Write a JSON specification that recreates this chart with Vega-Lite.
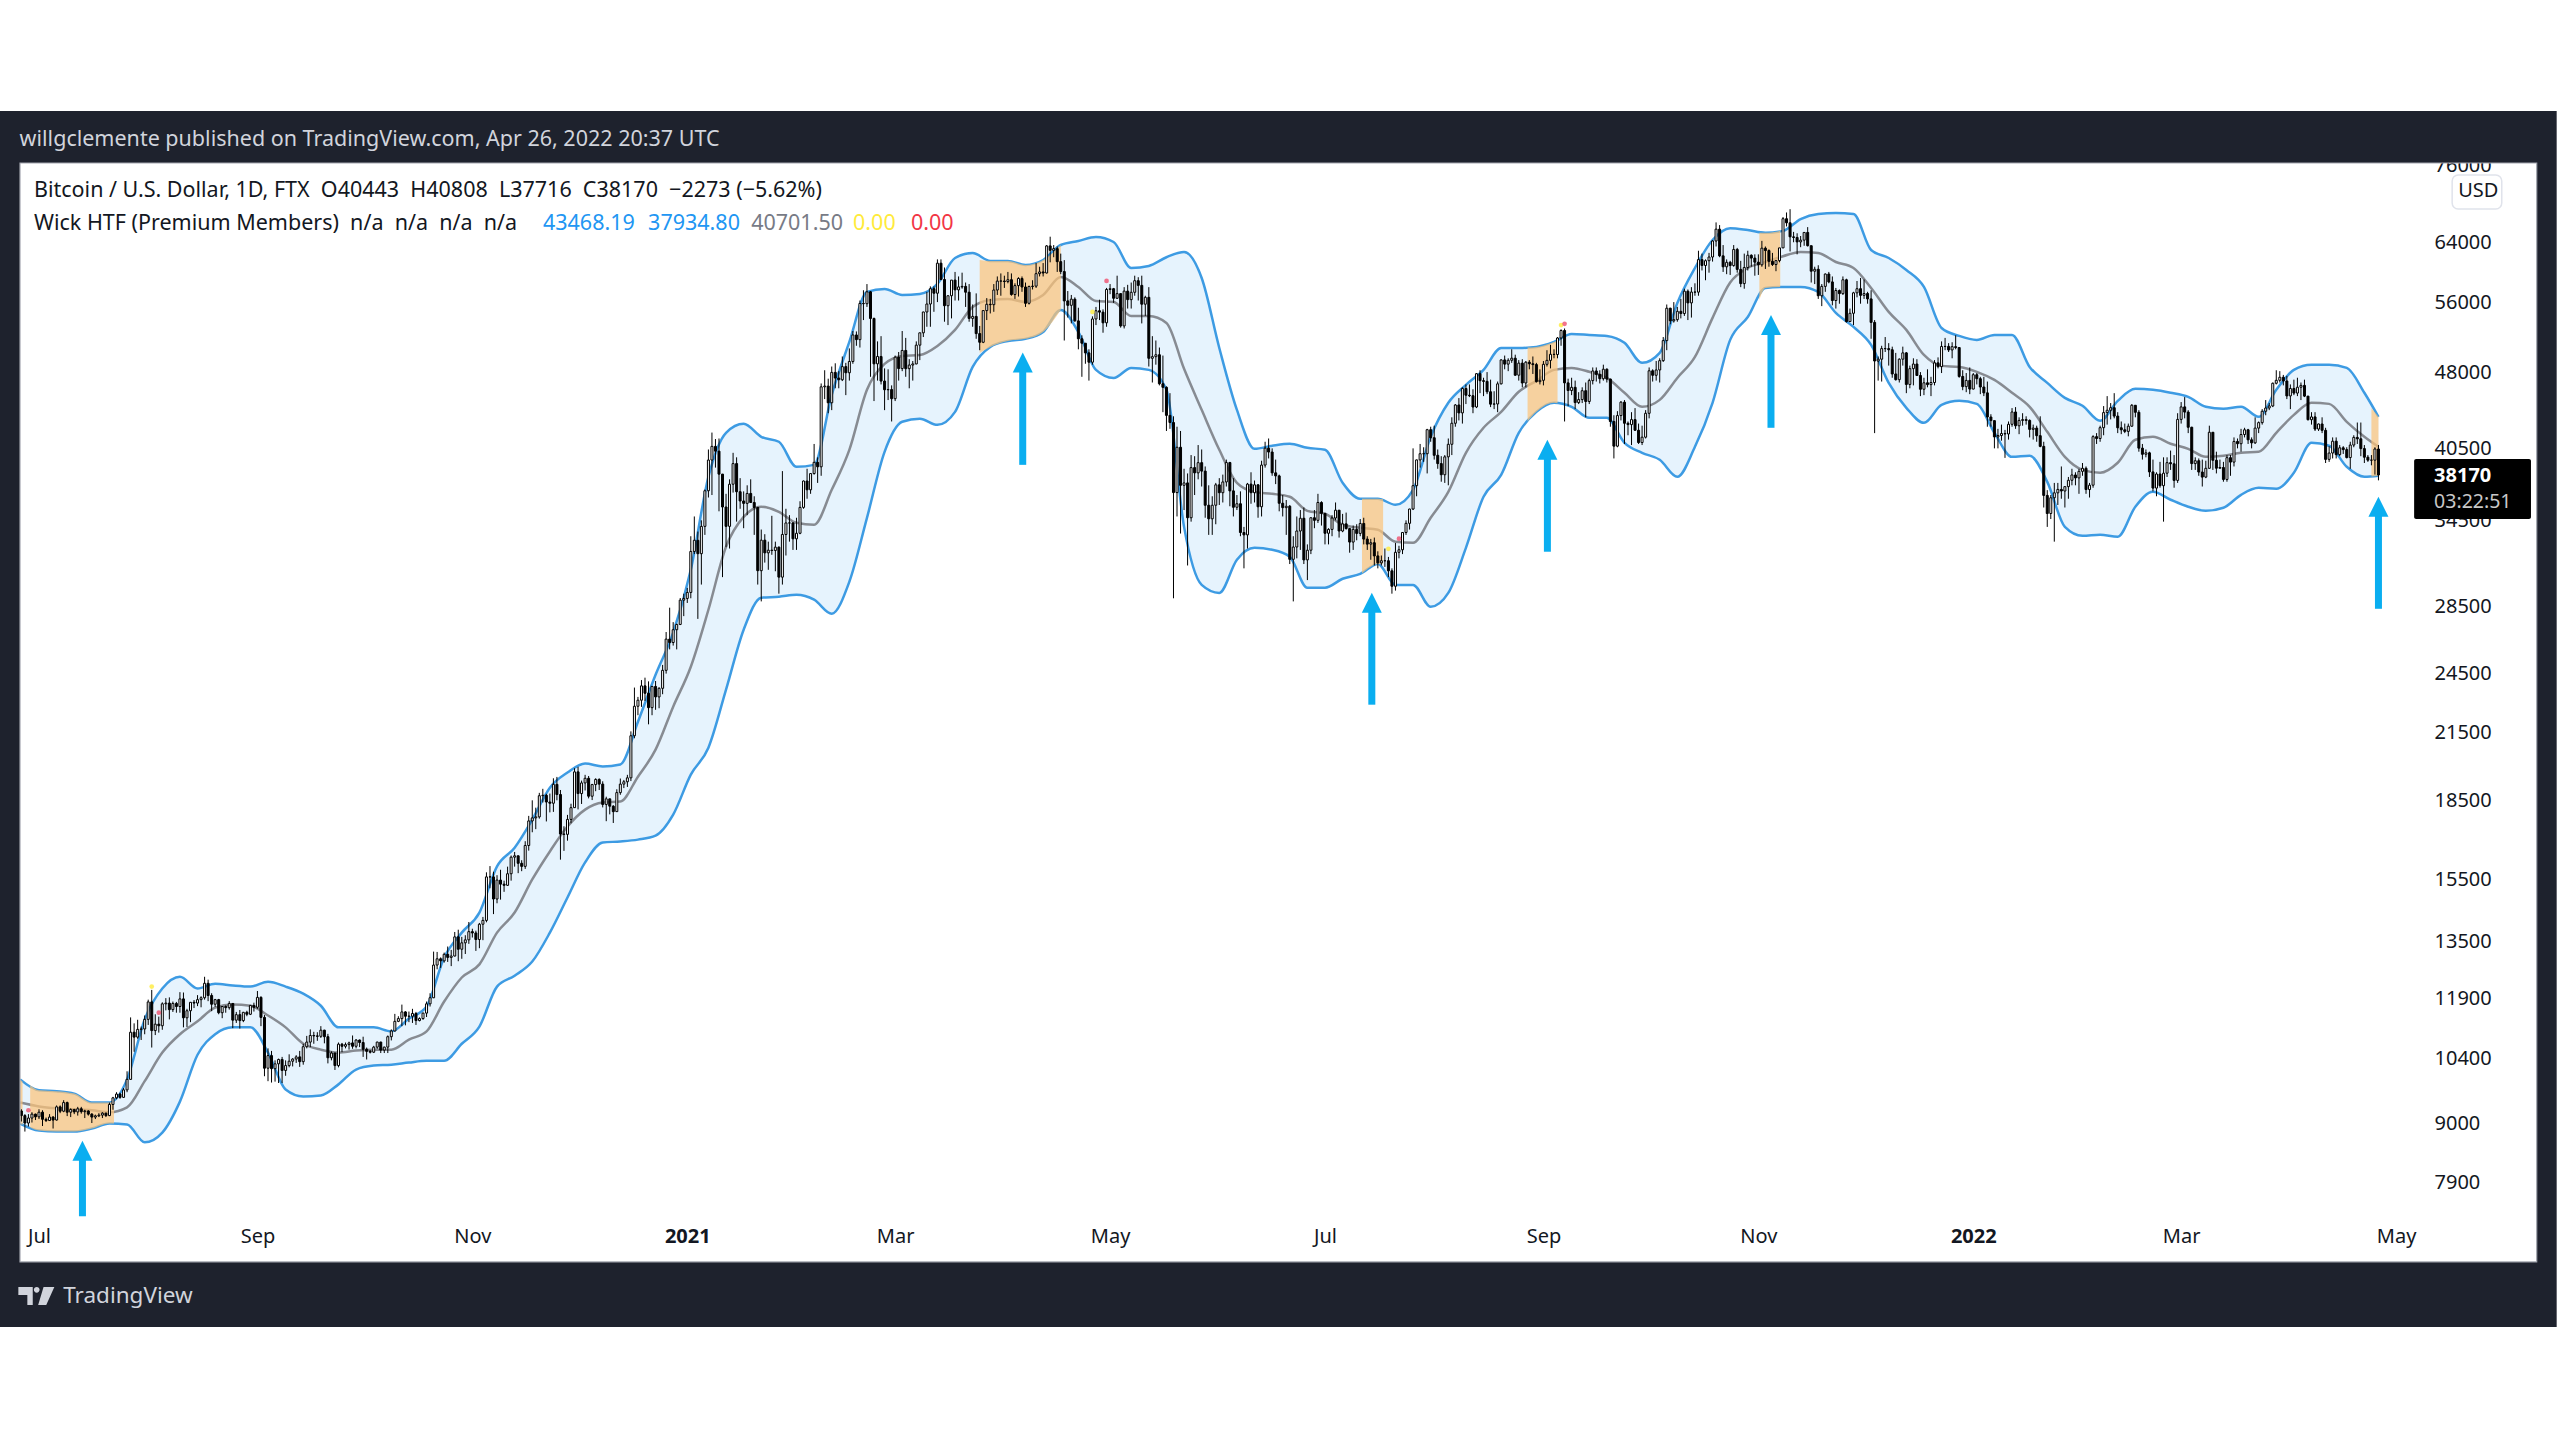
{"$schema":"https://vega.github.io/schema/vega-lite/v6.json","width":2400,"height":1059,"autosize":"none","padding":{"left":20,"top":163,"right":140,"bottom":218},"background":"#ffffff","view":{"stroke":null},"config":{"font":"Noto Sans"},
"datasets":{
"bands":[{"d":"2020-06-25T15:00","u":9930,"b":9430,"l":9000},{"d":"2020-07-01","u":9690,"b":9350,"l":8860},{"d":"2020-07-06","u":9670,"b":9310,"l":8840},{"d":"2020-07-11","u":9620,"b":9290,"l":8840},{"d":"2020-07-16","u":9430,"b":9270,"l":8900},{"d":"2020-07-21","u":9430,"b":9230,"l":9000},{"d":"2020-07-26","u":9930,"b":9330,"l":8980},{"d":"2020-07-31","u":11350,"b":9890,"l":8630},{"d":"2020-08-05","u":12160,"b":10540,"l":8820},{"d":"2020-08-10","u":12480,"b":10980,"l":9450},{"d":"2020-08-15","u":12160,"b":11300,"l":10490},{"d":"2020-08-20","u":12290,"b":11650,"l":10980},{"d":"2020-08-25","u":12240,"b":11730,"l":11150},{"d":"2020-08-30","u":12210,"b":11700,"l":11150},{"d":"2020-09-04","u":12340,"b":11450,"l":10540},{"d":"2020-09-09","u":12210,"b":11150,"l":9710},{"d":"2020-09-14","u":12020,"b":10750,"l":9560},{"d":"2020-09-19","u":11700,"b":10610,"l":9580},{"d":"2020-09-24","u":11150,"b":10540,"l":9820},{"d":"2020-09-29","u":11150,"b":10590,"l":10150},{"d":"2020-10-04","u":11150,"b":10610,"l":10240},{"d":"2020-10-09","u":11050,"b":10610,"l":10260},{"d":"2020-10-14","u":11370,"b":10850,"l":10310},{"d":"2020-10-19","u":11680,"b":11050,"l":10350},{"d":"2020-10-24","u":13030,"b":11810,"l":10350},{"d":"2020-10-29","u":13770,"b":12460,"l":10750},{"d":"2020-11-03","u":14400,"b":12830,"l":11170},{"d":"2020-11-08","u":15960,"b":13770,"l":12210},{"d":"2020-11-13","u":16640,"b":14400,"l":12510},{"d":"2020-11-18","u":17710,"b":15500,"l":12910},{"d":"2020-11-23","u":19020,"b":16500,"l":13770},{"d":"2020-11-28","u":19670,"b":17440,"l":14890},{"d":"2020-12-03","u":20070,"b":18110,"l":16100},{"d":"2020-12-08","u":19940,"b":18400,"l":16830},{"d":"2020-12-13","u":20030,"b":18440,"l":16870},{"d":"2020-12-18","u":22030,"b":19490,"l":16940},{"d":"2020-12-23","u":24460,"b":20700,"l":17090},{"d":"2020-12-28","u":26860,"b":22780,"l":17910},{"d":"2021-01-02","u":30900,"b":24900,"l":19580},{"d":"2021-01-07","u":38010,"b":28270,"l":20790},{"d":"2021-01-12","u":41930,"b":32530,"l":23660},{"d":"2021-01-17","u":42780,"b":34770,"l":27040},{"d":"2021-01-22","u":41550,"b":35560,"l":29040},{"d":"2021-01-27","u":41100,"b":35160,"l":29100},{"d":"2021-02-01","u":38870,"b":34310,"l":29230},{"d":"2021-02-06","u":39040,"b":34160,"l":28910},{"d":"2021-02-11","u":45630,"b":36930,"l":28020},{"d":"2021-02-16","u":51340,"b":40370,"l":30090},{"d":"2021-02-21","u":57390,"b":46140,"l":34690},{"d":"2021-02-26","u":57770,"b":48880,"l":40190},{"d":"2021-03-03","u":57000,"b":49760,"l":42970},{"d":"2021-03-08","u":57130,"b":49870,"l":43260},{"d":"2021-03-13","u":58420,"b":50880,"l":42680},{"d":"2021-03-18","u":61890,"b":52730,"l":43930},{"d":"2021-03-23","u":62580,"b":55500,"l":48560},{"d":"2021-03-28","u":61490,"b":56370,"l":50770},{"d":"2021-04-02","u":61490,"b":56490,"l":51450},{"d":"2021-04-07","u":60940,"b":56120,"l":51690},{"d":"2021-04-12","u":61620,"b":57000,"l":52490},{"d":"2021-04-17","u":63710,"b":59330,"l":55130},{"d":"2021-04-22","u":64290,"b":58030,"l":52490},{"d":"2021-04-27","u":64860,"b":56240,"l":48240},{"d":"2021-05-02","u":64140,"b":56120,"l":47380},{"d":"2021-05-07","u":60530,"b":54390,"l":48450},{"d":"2021-05-12","u":60800,"b":54390,"l":48240},{"d":"2021-05-17","u":62000,"b":53560,"l":46140},{"d":"2021-05-22","u":62740,"b":48350,"l":34000},{"d":"2021-05-27","u":59200,"b":44130,"l":29880},{"d":"2021-06-01","u":50650,"b":40370,"l":29350},{"d":"2021-06-06","u":44130,"b":37510,"l":31600},{"d":"2021-06-11","u":40460,"b":36760,"l":32450},{"d":"2021-06-16","u":40740,"b":36600,"l":32310},{"d":"2021-06-21","u":40920,"b":36360,"l":31810},{"d":"2021-06-26","u":40550,"b":35240,"l":29690},{"d":"2021-07-01","u":40370,"b":35010,"l":29690},{"d":"2021-07-06","u":37510,"b":34160,"l":30290},{"d":"2021-07-11","u":36200,"b":33930,"l":30620},{"d":"2021-07-16","u":36200,"b":33780,"l":31310},{"d":"2021-07-21","u":35720,"b":32890,"l":29880},{"d":"2021-07-26","u":36930,"b":32820,"l":29880},{"d":"2021-07-31","u":41560,"b":34700,"l":28460},{"d":"2021-08-05","u":44830,"b":36760,"l":29350},{"d":"2021-08-10","u":46650,"b":40100,"l":32450},{"d":"2021-08-15","u":48240,"b":42400,"l":36360},{"d":"2021-08-20","u":50650,"b":43930,"l":38180},{"d":"2021-08-25","u":50650,"b":45940,"l":41930},{"d":"2021-08-30","u":50770,"b":47070,"l":43930},{"d":"2021-09-04","u":51340,"b":48240,"l":44830},{"d":"2021-09-09","u":52260,"b":48450,"l":44430},{"d":"2021-09-14","u":52150,"b":48030,"l":43350},{"d":"2021-09-19","u":52030,"b":47380,"l":43350},{"d":"2021-09-24","u":51230,"b":45840,"l":41000},{"d":"2021-09-29","u":49000,"b":44430,"l":40100},{"d":"2021-10-04","u":50100,"b":45120,"l":39480},{"d":"2021-10-09","u":56000,"b":47380,"l":38010},{"d":"2021-10-14","u":60530,"b":49650,"l":40640},{"d":"2021-10-19","u":64430,"b":54160,"l":44830},{"d":"2021-10-24","u":66150,"b":58600,"l":51570},{"d":"2021-10-29","u":65870,"b":60530,"l":54270},{"d":"2021-11-03","u":65480,"b":61340,"l":57900},{"d":"2021-11-08","u":65750,"b":62140,"l":58030},{"d":"2021-11-13","u":67500,"b":62740,"l":58030},{"d":"2021-11-18","u":68260,"b":62580,"l":57390},{"d":"2021-11-23","u":68410,"b":61340,"l":54760},{"d":"2021-11-28","u":68260,"b":60530,"l":53080},{"d":"2021-12-03","u":63010,"b":57900,"l":51000},{"d":"2021-12-08","u":61890,"b":54890,"l":46860},{"d":"2021-12-13","u":60260,"b":52730,"l":44330},{"d":"2021-12-18","u":58030,"b":49870,"l":42870},{"d":"2021-12-23","u":52960,"b":48670,"l":44620},{"d":"2021-12-28","u":52030,"b":48560,"l":45020},{"d":"2022-01-02","u":51570,"b":48030,"l":44720},{"d":"2022-01-07","u":52150,"b":47170,"l":41930},{"d":"2022-01-12","u":52150,"b":45840,"l":39740},{"d":"2022-01-17","u":48560,"b":44430,"l":39830},{"d":"2022-01-22","u":46860,"b":42020,"l":37590},{"d":"2022-01-27","u":45320,"b":39740,"l":34000},{"d":"2022-02-01","u":44530,"b":38610,"l":33330},{"d":"2022-02-06","u":43070,"b":38360,"l":33410},{"d":"2022-02-11","u":45020,"b":39220,"l":33260},{"d":"2022-02-16","u":46240,"b":41280,"l":35560},{"d":"2022-02-21","u":46140,"b":41560,"l":36760},{"d":"2022-02-26","u":45840,"b":40920,"l":36120},{"d":"2022-03-03","u":45420,"b":40460,"l":35560},{"d":"2022-03-08","u":44430,"b":39740,"l":35240},{"d":"2022-03-13","u":44230,"b":39830,"l":35480},{"d":"2022-03-18","u":44430,"b":40100,"l":36520},{"d":"2022-03-23","u":43450,"b":40190,"l":37090},{"d":"2022-03-28","u":46140,"b":41930,"l":37010},{"d":"2022-04-02","u":48240,"b":43640,"l":38360},{"d":"2022-04-07","u":48790,"b":44830,"l":41000},{"d":"2022-04-12","u":48790,"b":44720,"l":40740},{"d":"2022-04-17","u":48450,"b":42970,"l":38870},{"d":"2022-04-22","u":45840,"b":41560,"l":38010},{"d":"2022-04-26","u":43450,"b":40640,"l":38100}],
"orange":[{"s":"a","d":"2020-06-25T15:00","u":9930,"l":9000},{"s":"a","d":"2020-06-26T08:00","u":9880,"l":8970},{"s":"b","d":"2020-06-28T12:00","u":9800,"l":8920},{"s":"b","d":"2020-07-01","u":9690,"l":8860},{"s":"b","d":"2020-07-06","u":9670,"l":8840},{"s":"b","d":"2020-07-11","u":9620,"l":8840},{"s":"b","d":"2020-07-16","u":9430,"l":8900},{"s":"b","d":"2020-07-21","u":9430,"l":9000},{"s":"b","d":"2020-07-22T07:00","u":9480,"l":9000},{"s":"c","d":"2021-03-25","u":61620,"l":50100},{"s":"c","d":"2021-03-28","u":61490,"l":50770},{"s":"c","d":"2021-04-02","u":61490,"l":51450},{"s":"c","d":"2021-04-07","u":60940,"l":51690},{"s":"c","d":"2021-04-12","u":61620,"l":52490},{"s":"c","d":"2021-04-17","u":63710,"l":55130},{"s":"d","d":"2021-07-11T12:00","u":36200,"l":30650},{"s":"d","d":"2021-07-16","u":36200,"l":31310},{"s":"d","d":"2021-07-17T12:00","u":36150,"l":31320},{"s":"e","d":"2021-08-27T12:00","u":50700,"l":43000},{"s":"e","d":"2021-08-30","u":50770,"l":43930},{"s":"e","d":"2021-09-04","u":51340,"l":44830},{"s":"e","d":"2021-09-05","u":51500,"l":44780},{"s":"f","d":"2021-11-01T07:00","u":65480,"l":56370},{"s":"f","d":"2021-11-03","u":65480,"l":57900},{"s":"f","d":"2021-11-07T05:00","u":65750,"l":58030},{"s":"g","d":"2022-04-24","u":44320,"l":38050},{"s":"g","d":"2022-04-26","u":43450,"l":38100}],
"candles":[{"d":"2020-06-26","o":9255,"h":9290,"l":9040,"c":9160},{"d":"2020-06-27","o":9160,"h":9190,"l":8840,"c":9010},{"d":"2020-06-28","o":9010,"h":9190,"l":8940,"c":9110},{"d":"2020-06-29","o":9110,"h":9230,"l":9020,"c":9190},{"d":"2020-06-30","o":9190,"h":9200,"l":9070,"c":9135},{"d":"2020-07-01","o":9135,"h":9290,"l":9090,"c":9230},{"d":"2020-07-02","o":9230,"h":9270,"l":8950,"c":9085},{"d":"2020-07-03","o":9085,"h":9120,"l":9030,"c":9060},{"d":"2020-07-04","o":9060,"h":9190,"l":9050,"c":9130},{"d":"2020-07-05","o":9130,"h":9150,"l":8900,"c":9070},{"d":"2020-07-06","o":9070,"h":9370,"l":9060,"c":9340},{"d":"2020-07-07","o":9340,"h":9370,"l":9210,"c":9250},{"d":"2020-07-08","o":9250,"h":9480,"l":9230,"c":9430},{"d":"2020-07-09","o":9430,"h":9450,"l":9150,"c":9230},{"d":"2020-07-10","o":9230,"h":9310,"l":9130,"c":9285},{"d":"2020-07-11","o":9285,"h":9300,"l":9190,"c":9235},{"d":"2020-07-12","o":9235,"h":9340,"l":9160,"c":9300},{"d":"2020-07-13","o":9300,"h":9340,"l":9200,"c":9240},{"d":"2020-07-14","o":9240,"h":9280,"l":9110,"c":9255},{"d":"2020-07-15","o":9255,"h":9270,"l":9160,"c":9190},{"d":"2020-07-16","o":9190,"h":9210,"l":9010,"c":9130},{"d":"2020-07-17","o":9130,"h":9180,"l":9090,"c":9155},{"d":"2020-07-18","o":9155,"h":9210,"l":9130,"c":9170},{"d":"2020-07-19","o":9170,"h":9230,"l":9110,"c":9210},{"d":"2020-07-20","o":9210,"h":9220,"l":9130,"c":9160},{"d":"2020-07-21","o":9160,"h":9430,"l":9150,"c":9390},{"d":"2020-07-22","o":9390,"h":9550,"l":9280,"c":9530},{"d":"2020-07-23","o":9530,"h":9650,"l":9500,"c":9610},{"d":"2020-07-24","o":9610,"h":9640,"l":9510,"c":9540},{"d":"2020-07-25","o":9540,"h":9740,"l":9530,"c":9700},{"d":"2020-07-26","o":9700,"h":10110,"l":9650,"c":9930},{"d":"2020-07-27","o":9930,"h":11400,"l":9920,"c":11030},{"d":"2020-07-28","o":11030,"h":11250,"l":10560,"c":10910},{"d":"2020-07-29","o":10910,"h":11340,"l":10870,"c":11100},{"d":"2020-07-30","o":11100,"h":11170,"l":10840,"c":11110},{"d":"2020-07-31","o":11110,"h":11450,"l":10980,"c":11350},{"d":"2020-08-01","o":11350,"h":11860,"l":11210,"c":11800},{"d":"2020-08-02","o":11800,"h":12120,"l":10660,"c":11070},{"d":"2020-08-03","o":11070,"h":11480,"l":10960,"c":11230},{"d":"2020-08-04","o":11230,"h":11420,"l":11020,"c":11190},{"d":"2020-08-05","o":11190,"h":11790,"l":11090,"c":11750},{"d":"2020-08-06","o":11750,"h":11900,"l":11580,"c":11770},{"d":"2020-08-07","o":11770,"h":11920,"l":11350,"c":11600},{"d":"2020-08-08","o":11600,"h":11810,"l":11540,"c":11760},{"d":"2020-08-09","o":11760,"h":11800,"l":11520,"c":11680},{"d":"2020-08-10","o":11680,"h":12060,"l":11520,"c":11880},{"d":"2020-08-11","o":11880,"h":12050,"l":11150,"c":11390},{"d":"2020-08-12","o":11390,"h":11620,"l":11160,"c":11570},{"d":"2020-08-13","o":11570,"h":11790,"l":11280,"c":11790},{"d":"2020-08-14","o":11790,"h":11850,"l":11640,"c":11770},{"d":"2020-08-15","o":11770,"h":11980,"l":11690,"c":11860},{"d":"2020-08-16","o":11860,"h":11950,"l":11660,"c":11910},{"d":"2020-08-17","o":11910,"h":12480,"l":11860,"c":12300},{"d":"2020-08-18","o":12300,"h":12400,"l":11820,"c":11970},{"d":"2020-08-19","o":11970,"h":12030,"l":11560,"c":11740},{"d":"2020-08-20","o":11740,"h":11880,"l":11670,"c":11860},{"d":"2020-08-21","o":11860,"h":11880,"l":11480,"c":11520},{"d":"2020-08-22","o":11520,"h":11690,"l":11380,"c":11680},{"d":"2020-08-23","o":11680,"h":11710,"l":11520,"c":11650},{"d":"2020-08-24","o":11650,"h":11820,"l":11600,"c":11760},{"d":"2020-08-25","o":11760,"h":11770,"l":11130,"c":11330},{"d":"2020-08-26","o":11330,"h":11540,"l":11260,"c":11470},{"d":"2020-08-27","o":11470,"h":11590,"l":11120,"c":11320},{"d":"2020-08-28","o":11320,"h":11540,"l":11280,"c":11530},{"d":"2020-08-29","o":11530,"h":11570,"l":11430,"c":11480},{"d":"2020-08-30","o":11480,"h":11720,"l":11460,"c":11710},{"d":"2020-08-31","o":11710,"h":11780,"l":11550,"c":11660},{"d":"2020-09-01","o":11660,"h":12090,"l":11620,"c":11920},{"d":"2020-09-02","o":11920,"h":11950,"l":11180,"c":11400},{"d":"2020-09-03","o":11400,"h":11460,"l":10000,"c":10180},{"d":"2020-09-04","o":10180,"h":10640,"l":9890,"c":10470},{"d":"2020-09-05","o":10470,"h":10580,"l":9860,"c":10170},{"d":"2020-09-06","o":10170,"h":10360,"l":9880,"c":10280},{"d":"2020-09-07","o":10280,"h":10400,"l":9850,"c":10380},{"d":"2020-09-08","o":10380,"h":10440,"l":9850,"c":10130},{"d":"2020-09-09","o":10130,"h":10360,"l":10010,"c":10240},{"d":"2020-09-10","o":10240,"h":10500,"l":10200,"c":10340},{"d":"2020-09-11","o":10340,"h":10410,"l":10220,"c":10390},{"d":"2020-09-12","o":10390,"h":10480,"l":10300,"c":10440},{"d":"2020-09-13","o":10440,"h":10580,"l":10210,"c":10330},{"d":"2020-09-14","o":10330,"h":10750,"l":10260,"c":10680},{"d":"2020-09-15","o":10680,"h":10940,"l":10640,"c":10790},{"d":"2020-09-16","o":10790,"h":11100,"l":10670,"c":10950},{"d":"2020-09-17","o":10950,"h":11040,"l":10750,"c":10940},{"d":"2020-09-18","o":10940,"h":11030,"l":10820,"c":10930},{"d":"2020-09-19","o":10930,"h":11180,"l":10890,"c":11080},{"d":"2020-09-20","o":11080,"h":11090,"l":10760,"c":10920},{"d":"2020-09-21","o":10920,"h":10990,"l":10290,"c":10420},{"d":"2020-09-22","o":10420,"h":10570,"l":10360,"c":10530},{"d":"2020-09-23","o":10530,"h":10540,"l":10140,"c":10240},{"d":"2020-09-24","o":10240,"h":10780,"l":10200,"c":10740},{"d":"2020-09-25","o":10740,"h":10770,"l":10550,"c":10690},{"d":"2020-09-26","o":10690,"h":10780,"l":10640,"c":10730},{"d":"2020-09-27","o":10730,"h":10800,"l":10610,"c":10770},{"d":"2020-09-28","o":10770,"h":10950,"l":10630,"c":10690},{"d":"2020-09-29","o":10690,"h":10860,"l":10640,"c":10840},{"d":"2020-09-30","o":10840,"h":10850,"l":10670,"c":10780},{"d":"2020-10-01","o":10780,"h":10920,"l":10440,"c":10620},{"d":"2020-10-02","o":10620,"h":10660,"l":10380,"c":10570},{"d":"2020-10-03","o":10570,"h":10600,"l":10520,"c":10550},{"d":"2020-10-04","o":10550,"h":10700,"l":10530,"c":10670},{"d":"2020-10-05","o":10670,"h":10800,"l":10630,"c":10790},{"d":"2020-10-06","o":10790,"h":10800,"l":10530,"c":10600},{"d":"2020-10-07","o":10600,"h":10680,"l":10530,"c":10670},{"d":"2020-10-08","o":10670,"h":10950,"l":10530,"c":10920},{"d":"2020-10-09","o":10920,"h":11100,"l":10830,"c":11060},{"d":"2020-10-10","o":11060,"h":11490,"l":11050,"c":11300},{"d":"2020-10-11","o":11300,"h":11430,"l":11280,"c":11370},{"d":"2020-10-12","o":11370,"h":11730,"l":11180,"c":11540},{"d":"2020-10-13","o":11540,"h":11560,"l":11200,"c":11430},{"d":"2020-10-14","o":11430,"h":11550,"l":11280,"c":11430},{"d":"2020-10-15","o":11430,"h":11620,"l":11260,"c":11500},{"d":"2020-10-16","o":11500,"h":11540,"l":11210,"c":11320},{"d":"2020-10-17","o":11320,"h":11400,"l":11300,"c":11370},{"d":"2020-10-18","o":11370,"h":11520,"l":11340,"c":11510},{"d":"2020-10-19","o":11510,"h":11810,"l":11410,"c":11750},{"d":"2020-10-20","o":11750,"h":12030,"l":11680,"c":11910},{"d":"2020-10-21","o":11910,"h":13200,"l":11900,"c":12810},{"d":"2020-10-22","o":12810,"h":13190,"l":12690,"c":12990},{"d":"2020-10-23","o":12990,"h":13030,"l":12730,"c":12930},{"d":"2020-10-24","o":12930,"h":13170,"l":12880,"c":13120},{"d":"2020-10-25","o":13120,"h":13350,"l":12900,"c":13030},{"d":"2020-10-26","o":13030,"h":13250,"l":12780,"c":13070},{"d":"2020-10-27","o":13070,"h":13790,"l":13060,"c":13640},{"d":"2020-10-28","o":13640,"h":13860,"l":12920,"c":13270},{"d":"2020-10-29","o":13270,"h":13640,"l":12990,"c":13460},{"d":"2020-10-30","o":13460,"h":13690,"l":13130,"c":13550},{"d":"2020-10-31","o":13550,"h":14100,"l":13430,"c":13800},{"d":"2020-11-01","o":13800,"h":13890,"l":13620,"c":13760},{"d":"2020-11-02","o":13760,"h":13830,"l":13220,"c":13560},{"d":"2020-11-03","o":13560,"h":14070,"l":13300,"c":14030},{"d":"2020-11-04","o":14030,"h":14260,"l":13540,"c":14150},{"d":"2020-11-05","o":14150,"h":15750,"l":14090,"c":15590},{"d":"2020-11-06","o":15590,"h":15970,"l":15200,"c":15590},{"d":"2020-11-07","o":15590,"h":15770,"l":14350,"c":14840},{"d":"2020-11-08","o":14840,"h":15650,"l":14700,"c":15480},{"d":"2020-11-09","o":15480,"h":15840,"l":14820,"c":15340},{"d":"2020-11-10","o":15340,"h":15460,"l":15080,"c":15300},{"d":"2020-11-11","o":15300,"h":15950,"l":15280,"c":15700},{"d":"2020-11-12","o":15700,"h":16350,"l":15460,"c":16290},{"d":"2020-11-13","o":16290,"h":16480,"l":15950,"c":16340},{"d":"2020-11-14","o":16340,"h":16350,"l":15720,"c":16070},{"d":"2020-11-15","o":16070,"h":16180,"l":15790,"c":15960},{"d":"2020-11-16","o":15960,"h":16880,"l":15870,"c":16720},{"d":"2020-11-17","o":16720,"h":17860,"l":16530,"c":17660},{"d":"2020-11-18","o":17660,"h":18490,"l":17220,"c":17780},{"d":"2020-11-19","o":17780,"h":18190,"l":17340,"c":17820},{"d":"2020-11-20","o":17820,"h":18800,"l":17750,"c":18680},{"d":"2020-11-21","o":18680,"h":18970,"l":18400,"c":18700},{"d":"2020-11-22","o":18700,"h":18760,"l":17640,"c":18420},{"d":"2020-11-23","o":18420,"h":18770,"l":18000,"c":18370},{"d":"2020-11-24","o":18370,"h":19420,"l":18020,"c":19160},{"d":"2020-11-25","o":19160,"h":19480,"l":18490,"c":18730},{"d":"2020-11-26","o":18730,"h":18920,"l":16200,"c":17150},{"d":"2020-11-27","o":17150,"h":17450,"l":16520,"c":17140},{"d":"2020-11-28","o":17140,"h":17900,"l":16900,"c":17720},{"d":"2020-11-29","o":17720,"h":18350,"l":17570,"c":18190},{"d":"2020-11-30","o":18190,"h":19860,"l":18180,"c":19700},{"d":"2020-12-01","o":19700,"h":19920,"l":18120,"c":18770},{"d":"2020-12-02","o":18770,"h":19320,"l":18340,"c":19220},{"d":"2020-12-03","o":19220,"h":19570,"l":18900,"c":19420},{"d":"2020-12-04","o":19420,"h":19520,"l":18570,"c":18660},{"d":"2020-12-05","o":18660,"h":19180,"l":18500,"c":19150},{"d":"2020-12-06","o":19150,"h":19420,"l":18870,"c":19370},{"d":"2020-12-07","o":19370,"h":19420,"l":18920,"c":19170},{"d":"2020-12-08","o":19170,"h":19290,"l":18200,"c":18320},{"d":"2020-12-09","o":18320,"h":18640,"l":17650,"c":18550},{"d":"2020-12-10","o":18550,"h":18560,"l":17920,"c":18250},{"d":"2020-12-11","o":18250,"h":18290,"l":17580,"c":18030},{"d":"2020-12-12","o":18030,"h":18950,"l":18020,"c":18810},{"d":"2020-12-13","o":18810,"h":19410,"l":18720,"c":19170},{"d":"2020-12-14","o":19170,"h":19350,"l":19000,"c":19270},{"d":"2020-12-15","o":19270,"h":19570,"l":19050,"c":19440},{"d":"2020-12-16","o":19440,"h":21560,"l":19300,"c":21350},{"d":"2020-12-17","o":21350,"h":23770,"l":21230,"c":22800},{"d":"2020-12-18","o":22800,"h":23280,"l":22350,"c":23110},{"d":"2020-12-19","o":23110,"h":24170,"l":22770,"c":23860},{"d":"2020-12-20","o":23860,"h":24300,"l":23070,"c":23470},{"d":"2020-12-21","o":23470,"h":24100,"l":21900,"c":22730},{"d":"2020-12-22","o":22730,"h":23840,"l":22350,"c":23830},{"d":"2020-12-23","o":23830,"h":24120,"l":22620,"c":23280},{"d":"2020-12-24","o":23280,"h":23790,"l":22700,"c":23730},{"d":"2020-12-25","o":23730,"h":25000,"l":23420,"c":24700},{"d":"2020-12-26","o":24700,"h":26900,"l":24520,"c":26480},{"d":"2020-12-27","o":26480,"h":28400,"l":25880,"c":26280},{"d":"2020-12-28","o":26280,"h":27500,"l":26100,"c":27040},{"d":"2020-12-29","o":27040,"h":27400,"l":25880,"c":27360},{"d":"2020-12-30","o":27360,"h":29020,"l":27320,"c":28880},{"d":"2020-12-31","o":28880,"h":29300,"l":27870,"c":28990},{"d":"2021-01-01","o":28990,"h":29680,"l":28700,"c":29380},{"d":"2021-01-02","o":29380,"h":33300,"l":29000,"c":32190},{"d":"2021-01-03","o":32190,"h":34800,"l":32000,"c":33000},{"d":"2021-01-04","o":33000,"h":33650,"l":27700,"c":32030},{"d":"2021-01-05","o":32030,"h":34500,"l":29900,"c":34040},{"d":"2021-01-06","o":34040,"h":36950,"l":33400,"c":36850},{"d":"2021-01-07","o":36850,"h":40400,"l":36300,"c":39460},{"d":"2021-01-08","o":39460,"h":41950,"l":36500,"c":40680},{"d":"2021-01-09","o":40680,"h":41350,"l":38800,"c":40250},{"d":"2021-01-10","o":40250,"h":41400,"l":35200,"c":38240},{"d":"2021-01-11","o":38240,"h":38260,"l":30400,"c":35540},{"d":"2021-01-12","o":35540,"h":36600,"l":32500,"c":34040},{"d":"2021-01-13","o":34040,"h":37800,"l":32400,"c":37390},{"d":"2021-01-14","o":37390,"h":40100,"l":36700,"c":39150},{"d":"2021-01-15","o":39150,"h":39700,"l":34400,"c":36770},{"d":"2021-01-16","o":36770,"h":37900,"l":35400,"c":36020},{"d":"2021-01-17","o":36020,"h":36800,"l":33900,"c":35830},{"d":"2021-01-18","o":35830,"h":37300,"l":34900,"c":36630},{"d":"2021-01-19","o":36630,"h":37800,"l":35900,"c":35900},{"d":"2021-01-20","o":35900,"h":36400,"l":33400,"c":35500},{"d":"2021-01-21","o":35500,"h":35550,"l":29900,"c":30840},{"d":"2021-01-22","o":30840,"h":33800,"l":28800,"c":33010},{"d":"2021-01-23","o":33010,"h":33450,"l":31400,"c":32090},{"d":"2021-01-24","o":32090,"h":32900,"l":30900,"c":32280},{"d":"2021-01-25","o":32280,"h":34850,"l":31950,"c":32260},{"d":"2021-01-26","o":32260,"h":32900,"l":30800,"c":32500},{"d":"2021-01-27","o":32500,"h":32550,"l":29300,"c":30400},{"d":"2021-01-28","o":30400,"h":38500,"l":29900,"c":33430},{"d":"2021-01-29","o":33430,"h":35400,"l":31900,"c":34300},{"d":"2021-01-30","o":34300,"h":34900,"l":32900,"c":34300},{"d":"2021-01-31","o":34300,"h":34350,"l":32300,"c":33110},{"d":"2021-02-01","o":33110,"h":34700,"l":32300,"c":33520},{"d":"2021-02-02","o":33520,"h":36000,"l":33450,"c":35510},{"d":"2021-02-03","o":35510,"h":37700,"l":35400,"c":37660},{"d":"2021-02-04","o":37660,"h":38700,"l":36200,"c":36930},{"d":"2021-02-05","o":36930,"h":38300,"l":36600,"c":38290},{"d":"2021-02-06","o":38290,"h":40900,"l":38200,"c":39260},{"d":"2021-02-07","o":39260,"h":39700,"l":37500,"c":38870},{"d":"2021-02-08","o":38870,"h":46800,"l":38100,"c":46450},{"d":"2021-02-09","o":46450,"h":48200,"l":45200,"c":46530},{"d":"2021-02-10","o":46530,"h":47300,"l":43800,"c":44830},{"d":"2021-02-11","o":44830,"h":48600,"l":44100,"c":47970},{"d":"2021-02-12","o":47970,"h":48950,"l":46300,"c":47370},{"d":"2021-02-13","o":47370,"h":48100,"l":46300,"c":47190},{"d":"2021-02-14","o":47190,"h":49700,"l":47050,"c":48590},{"d":"2021-02-15","o":48590,"h":49000,"l":45600,"c":47930},{"d":"2021-02-16","o":47930,"h":50600,"l":47100,"c":49150},{"d":"2021-02-17","o":49150,"h":52600,"l":48900,"c":52140},{"d":"2021-02-18","o":52140,"h":52550,"l":50900,"c":51600},{"d":"2021-02-19","o":51600,"h":56300,"l":50700,"c":55930},{"d":"2021-02-20","o":55930,"h":57600,"l":53900,"c":55900},{"d":"2021-02-21","o":55900,"h":58400,"l":55500,"c":57400},{"d":"2021-02-22","o":57400,"h":57500,"l":47500,"c":54090},{"d":"2021-02-23","o":54090,"h":54200,"l":45000,"c":48890},{"d":"2021-02-24","o":48890,"h":51400,"l":47100,"c":49700},{"d":"2021-02-25","o":49700,"h":52000,"l":46700,"c":47050},{"d":"2021-02-26","o":47050,"h":48400,"l":44100,"c":46150},{"d":"2021-02-27","o":46150,"h":48300,"l":45100,"c":46170},{"d":"2021-02-28","o":46170,"h":46600,"l":43000,"c":45240},{"d":"2021-03-01","o":45240,"h":49800,"l":45000,"c":49620},{"d":"2021-03-02","o":49620,"h":50200,"l":47100,"c":48380},{"d":"2021-03-03","o":48380,"h":52600,"l":48100,"c":50370},{"d":"2021-03-04","o":50370,"h":51800,"l":47500,"c":48370},{"d":"2021-03-05","o":48370,"h":49400,"l":46300,"c":48760},{"d":"2021-03-06","o":48760,"h":49200,"l":47100,"c":48880},{"d":"2021-03-07","o":48880,"h":51400,"l":48850,"c":50970},{"d":"2021-03-08","o":50970,"h":52400,"l":49300,"c":52390},{"d":"2021-03-09","o":52390,"h":54900,"l":51900,"c":54880},{"d":"2021-03-10","o":54880,"h":57400,"l":53100,"c":55860},{"d":"2021-03-11","o":55860,"h":58100,"l":53100,"c":57800},{"d":"2021-03-12","o":57800,"h":58100,"l":54900,"c":57220},{"d":"2021-03-13","o":57220,"h":61700,"l":56100,"c":61180},{"d":"2021-03-14","o":61180,"h":61700,"l":58900,"c":59000},{"d":"2021-03-15","o":59000,"h":60600,"l":53700,"c":55650},{"d":"2021-03-16","o":55650,"h":56900,"l":53300,"c":56900},{"d":"2021-03-17","o":56900,"h":58900,"l":54100,"c":58920},{"d":"2021-03-18","o":58920,"h":60000,"l":56300,"c":57650},{"d":"2021-03-19","o":57650,"h":59400,"l":56300,"c":58030},{"d":"2021-03-20","o":58030,"h":59900,"l":57800,"c":58100},{"d":"2021-03-21","o":58100,"h":58600,"l":55500,"c":57350},{"d":"2021-03-22","o":57350,"h":58400,"l":53700,"c":54100},{"d":"2021-03-23","o":54100,"h":55800,"l":53100,"c":54340},{"d":"2021-03-24","o":54340,"h":57200,"l":51700,"c":52300},{"d":"2021-03-25","o":52300,"h":53200,"l":50400,"c":51300},{"d":"2021-03-26","o":51300,"h":55100,"l":51200,"c":55050},{"d":"2021-03-27","o":55050,"h":56600,"l":53900,"c":55830},{"d":"2021-03-28","o":55830,"h":56500,"l":54700,"c":55780},{"d":"2021-03-29","o":55780,"h":58400,"l":54900,"c":57630},{"d":"2021-03-30","o":57630,"h":59400,"l":57000,"c":58790},{"d":"2021-03-31","o":58790,"h":59800,"l":56900,"c":58800},{"d":"2021-04-01","o":58800,"h":59500,"l":57900,"c":58730},{"d":"2021-04-02","o":58730,"h":60000,"l":58500,"c":58970},{"d":"2021-04-03","o":58970,"h":59800,"l":56900,"c":57060},{"d":"2021-04-04","o":57060,"h":58500,"l":56500,"c":58200},{"d":"2021-04-05","o":58200,"h":59300,"l":56800,"c":59130},{"d":"2021-04-06","o":59130,"h":59400,"l":57400,"c":58020},{"d":"2021-04-07","o":58020,"h":58600,"l":55500,"c":55950},{"d":"2021-04-08","o":55950,"h":58200,"l":55800,"c":58080},{"d":"2021-04-09","o":58080,"h":58900,"l":57700,"c":58130},{"d":"2021-04-10","o":58130,"h":61200,"l":57900,"c":59770},{"d":"2021-04-11","o":59770,"h":60700,"l":59400,"c":60000},{"d":"2021-04-12","o":60000,"h":61200,"l":59400,"c":59860},{"d":"2021-04-13","o":59860,"h":63700,"l":59800,"c":63580},{"d":"2021-04-14","o":63580,"h":64900,"l":61300,"c":62960},{"d":"2021-04-15","o":62960,"h":63700,"l":62000,"c":63200},{"d":"2021-04-16","o":63200,"h":63500,"l":60000,"c":61390},{"d":"2021-04-17","o":61390,"h":62500,"l":59700,"c":60050},{"d":"2021-04-18","o":60050,"h":61600,"l":51500,"c":56250},{"d":"2021-04-19","o":56250,"h":57500,"l":54200,"c":55700},{"d":"2021-04-20","o":55700,"h":57000,"l":53500,"c":56470},{"d":"2021-04-21","o":56470,"h":56700,"l":53700,"c":53800},{"d":"2021-04-22","o":53800,"h":55400,"l":50500,"c":51700},{"d":"2021-04-23","o":51700,"h":52100,"l":47500,"c":51190},{"d":"2021-04-24","o":51190,"h":51200,"l":48900,"c":50100},{"d":"2021-04-25","o":50100,"h":50500,"l":47100,"c":49070},{"d":"2021-04-26","o":49070,"h":54350,"l":48800,"c":54030},{"d":"2021-04-27","o":54030,"h":55500,"l":53300,"c":55030},{"d":"2021-04-28","o":55030,"h":56400,"l":53900,"c":54860},{"d":"2021-04-29","o":54860,"h":55200,"l":52400,"c":53570},{"d":"2021-04-30","o":53570,"h":57900,"l":53100,"c":57700},{"d":"2021-05-01","o":57700,"h":58400,"l":57100,"c":57800},{"d":"2021-05-02","o":57800,"h":57900,"l":56000,"c":56580},{"d":"2021-05-03","o":56580,"h":59500,"l":56500,"c":57170},{"d":"2021-05-04","o":57170,"h":57200,"l":53000,"c":53200},{"d":"2021-05-05","o":53200,"h":58000,"l":52900,"c":57490},{"d":"2021-05-06","o":57490,"h":58300,"l":55300,"c":56410},{"d":"2021-05-07","o":56410,"h":58600,"l":55300,"c":57340},{"d":"2021-05-08","o":57340,"h":59500,"l":56900,"c":58840},{"d":"2021-05-09","o":58840,"h":59300,"l":56300,"c":58230},{"d":"2021-05-10","o":58230,"h":59500,"l":53500,"c":55840},{"d":"2021-05-11","o":55840,"h":56900,"l":54400,"c":56700},{"d":"2021-05-12","o":56700,"h":58000,"l":48600,"c":49500},{"d":"2021-05-13","o":49500,"h":52000,"l":46900,"c":49680},{"d":"2021-05-14","o":49680,"h":51500,"l":48800,"c":49890},{"d":"2021-05-15","o":49890,"h":50700,"l":46600,"c":46770},{"d":"2021-05-16","o":46770,"h":49800,"l":43900,"c":46400},{"d":"2021-05-17","o":46400,"h":46500,"l":42100,"c":43590},{"d":"2021-05-18","o":43590,"h":45800,"l":42300,"c":42900},{"d":"2021-05-19","o":42900,"h":43500,"l":29000,"c":36700},{"d":"2021-05-20","o":36700,"h":42500,"l":34800,"c":40600},{"d":"2021-05-21","o":40600,"h":42100,"l":33500,"c":37300},{"d":"2021-05-22","o":37300,"h":38700,"l":35300,"c":37500},{"d":"2021-05-23","o":37500,"h":38300,"l":31200,"c":34700},{"d":"2021-05-24","o":34700,"h":39900,"l":34400,"c":38800},{"d":"2021-05-25","o":38800,"h":39800,"l":36500,"c":38350},{"d":"2021-05-26","o":38350,"h":40800,"l":37800,"c":39230},{"d":"2021-05-27","o":39230,"h":40400,"l":37200,"c":38500},{"d":"2021-05-28","o":38500,"h":38900,"l":34700,"c":35680},{"d":"2021-05-29","o":35680,"h":37300,"l":33400,"c":34620},{"d":"2021-05-30","o":34620,"h":36400,"l":33400,"c":35680},{"d":"2021-05-31","o":35680,"h":37500,"l":34200,"c":37340},{"d":"2021-06-01","o":37340,"h":37900,"l":35700,"c":36690},{"d":"2021-06-02","o":36690,"h":38200,"l":35900,"c":37580},{"d":"2021-06-03","o":37580,"h":39500,"l":37200,"c":39240},{"d":"2021-06-04","o":39240,"h":39300,"l":35600,"c":36840},{"d":"2021-06-05","o":36840,"h":37900,"l":34800,"c":35520},{"d":"2021-06-06","o":35520,"h":36500,"l":35300,"c":35800},{"d":"2021-06-07","o":35800,"h":36800,"l":33300,"c":33580},{"d":"2021-06-08","o":33580,"h":34000,"l":31000,"c":33400},{"d":"2021-06-09","o":33400,"h":37500,"l":32400,"c":37400},{"d":"2021-06-10","o":37400,"h":38400,"l":35800,"c":36690},{"d":"2021-06-11","o":36690,"h":37700,"l":35900,"c":37340},{"d":"2021-06-12","o":37340,"h":37400,"l":34700,"c":35560},{"d":"2021-06-13","o":35560,"h":39400,"l":34800,"c":39020},{"d":"2021-06-14","o":39020,"h":41100,"l":38800,"c":40520},{"d":"2021-06-15","o":40520,"h":41400,"l":39600,"c":40170},{"d":"2021-06-16","o":40170,"h":40500,"l":38100,"c":38350},{"d":"2021-06-17","o":38350,"h":39500,"l":37400,"c":38090},{"d":"2021-06-18","o":38090,"h":38200,"l":35200,"c":35840},{"d":"2021-06-19","o":35840,"h":36500,"l":34800,"c":35490},{"d":"2021-06-20","o":35490,"h":36100,"l":33400,"c":35600},{"d":"2021-06-21","o":35600,"h":35700,"l":31300,"c":31630},{"d":"2021-06-22","o":31630,"h":33300,"l":28800,"c":32510},{"d":"2021-06-23","o":32510,"h":34800,"l":31700,"c":33690},{"d":"2021-06-24","o":33690,"h":35300,"l":32300,"c":34660},{"d":"2021-06-25","o":34660,"h":35500,"l":31300,"c":31590},{"d":"2021-06-26","o":31590,"h":32700,"l":30200,"c":32280},{"d":"2021-06-27","o":32280,"h":34700,"l":32000,"c":34700},{"d":"2021-06-28","o":34700,"h":35300,"l":33900,"c":34500},{"d":"2021-06-29","o":34500,"h":36600,"l":34300,"c":35900},{"d":"2021-06-30","o":35900,"h":36000,"l":34100,"c":35040},{"d":"2021-07-01","o":35040,"h":35050,"l":32700,"c":33520},{"d":"2021-07-02","o":33520,"h":33900,"l":32700,"c":33810},{"d":"2021-07-03","o":33810,"h":34900,"l":33300,"c":34680},{"d":"2021-07-04","o":34680,"h":35900,"l":34500,"c":35290},{"d":"2021-07-05","o":35290,"h":35300,"l":33200,"c":33690},{"d":"2021-07-06","o":33690,"h":35000,"l":33600,"c":34230},{"d":"2021-07-07","o":34230,"h":35100,"l":33800,"c":33870},{"d":"2021-07-08","o":33870,"h":33900,"l":32100,"c":32870},{"d":"2021-07-09","o":32870,"h":34100,"l":32300,"c":33810},{"d":"2021-07-10","o":33810,"h":34200,"l":33000,"c":33510},{"d":"2021-07-11","o":33510,"h":34600,"l":33300,"c":34260},{"d":"2021-07-12","o":34260,"h":34700,"l":32700,"c":33090},{"d":"2021-07-13","o":33090,"h":33300,"l":32300,"c":32720},{"d":"2021-07-14","o":32720,"h":33100,"l":31600,"c":32820},{"d":"2021-07-15","o":32820,"h":33200,"l":31200,"c":31870},{"d":"2021-07-16","o":31870,"h":32200,"l":31000,"c":31380},{"d":"2021-07-17","o":31380,"h":31900,"l":31200,"c":31530},{"d":"2021-07-18","o":31530,"h":32400,"l":31100,"c":31530},{"d":"2021-07-19","o":31530,"h":31800,"l":30400,"c":30830},{"d":"2021-07-20","o":30830,"h":31000,"l":29300,"c":29790},{"d":"2021-07-21","o":29790,"h":32800,"l":29500,"c":32130},{"d":"2021-07-22","o":32130,"h":32600,"l":31700,"c":32310},{"d":"2021-07-23","o":32310,"h":33600,"l":32000,"c":33580},{"d":"2021-07-24","o":33580,"h":34500,"l":33400,"c":34270},{"d":"2021-07-25","o":34270,"h":35400,"l":33800,"c":35380},{"d":"2021-07-26","o":35380,"h":40500,"l":35300,"c":37270},{"d":"2021-07-27","o":37270,"h":39500,"l":36400,"c":39470},{"d":"2021-07-28","o":39470,"h":40900,"l":38800,"c":40020},{"d":"2021-07-29","o":40020,"h":40600,"l":39300,"c":40020},{"d":"2021-07-30","o":40020,"h":42300,"l":38300,"c":42220},{"d":"2021-07-31","o":42220,"h":42500,"l":41100,"c":41470},{"d":"2021-08-01","o":41470,"h":42600,"l":39500,"c":39880},{"d":"2021-08-02","o":39880,"h":40400,"l":38700,"c":39150},{"d":"2021-08-03","o":39150,"h":39800,"l":37600,"c":38190},{"d":"2021-08-04","o":38190,"h":39900,"l":37500,"c":39740},{"d":"2021-08-05","o":39740,"h":41400,"l":37300,"c":40870},{"d":"2021-08-06","o":40870,"h":43400,"l":39900,"c":42830},{"d":"2021-08-07","o":42830,"h":44700,"l":42500,"c":44610},{"d":"2021-08-08","o":44610,"h":45300,"l":43100,"c":43830},{"d":"2021-08-09","o":43830,"h":46400,"l":42800,"c":46280},{"d":"2021-08-10","o":46280,"h":46700,"l":44700,"c":45590},{"d":"2021-08-11","o":45590,"h":46700,"l":45400,"c":45540},{"d":"2021-08-12","o":45540,"h":46200,"l":43800,"c":44410},{"d":"2021-08-13","o":44410,"h":47900,"l":44300,"c":47830},{"d":"2021-08-14","o":47830,"h":48200,"l":45800,"c":47090},{"d":"2021-08-15","o":47090,"h":47400,"l":45500,"c":47020},{"d":"2021-08-16","o":47020,"h":48000,"l":45700,"c":45940},{"d":"2021-08-17","o":45940,"h":47200,"l":44400,"c":44690},{"d":"2021-08-18","o":44690,"h":46000,"l":44200,"c":44710},{"d":"2021-08-19","o":44710,"h":47000,"l":43900,"c":46760},{"d":"2021-08-20","o":46760,"h":49400,"l":46700,"c":49320},{"d":"2021-08-21","o":49320,"h":49800,"l":48300,"c":48860},{"d":"2021-08-22","o":48860,"h":49500,"l":48100,"c":49280},{"d":"2021-08-23","o":49280,"h":50500,"l":49000,"c":49510},{"d":"2021-08-24","o":49510,"h":49900,"l":47600,"c":47670},{"d":"2021-08-25","o":47670,"h":49300,"l":47100,"c":48970},{"d":"2021-08-26","o":48970,"h":49400,"l":46400,"c":46850},{"d":"2021-08-27","o":46850,"h":49200,"l":46400,"c":49070},{"d":"2021-08-28","o":49070,"h":49300,"l":48300,"c":48900},{"d":"2021-08-29","o":48900,"h":49700,"l":47800,"c":48810},{"d":"2021-08-30","o":48810,"h":49000,"l":46900,"c":46990},{"d":"2021-08-31","o":46990,"h":48300,"l":46700,"c":47130},{"d":"2021-09-01","o":47130,"h":49200,"l":46600,"c":48840},{"d":"2021-09-02","o":48840,"h":50400,"l":48600,"c":49270},{"d":"2021-09-03","o":49270,"h":51000,"l":48400,"c":49940},{"d":"2021-09-04","o":49940,"h":50500,"l":49500,"c":49920},{"d":"2021-09-05","o":49920,"h":51900,"l":49500,"c":51790},{"d":"2021-09-06","o":51790,"h":52800,"l":50900,"c":52660},{"d":"2021-09-07","o":52660,"h":52900,"l":43000,"c":46860},{"d":"2021-09-08","o":46860,"h":47300,"l":44500,"c":46070},{"d":"2021-09-09","o":46070,"h":47400,"l":45600,"c":46400},{"d":"2021-09-10","o":46400,"h":47100,"l":44200,"c":44850},{"d":"2021-09-11","o":44850,"h":45900,"l":44700,"c":45150},{"d":"2021-09-12","o":45150,"h":46400,"l":44800,"c":46050},{"d":"2021-09-13","o":46050,"h":46900,"l":43400,"c":44960},{"d":"2021-09-14","o":44960,"h":47300,"l":44700,"c":47100},{"d":"2021-09-15","o":47100,"h":48500,"l":46700,"c":48120},{"d":"2021-09-16","o":48120,"h":48500,"l":47000,"c":47760},{"d":"2021-09-17","o":47760,"h":48200,"l":46800,"c":47300},{"d":"2021-09-18","o":47300,"h":48800,"l":47100,"c":48310},{"d":"2021-09-19","o":48310,"h":48400,"l":46900,"c":47260},{"d":"2021-09-20","o":47260,"h":47300,"l":42500,"c":43000},{"d":"2021-09-21","o":43000,"h":43600,"l":39600,"c":40700},{"d":"2021-09-22","o":40700,"h":44000,"l":40600,"c":43570},{"d":"2021-09-23","o":43570,"h":45000,"l":43100,"c":44890},{"d":"2021-09-24","o":44890,"h":45100,"l":40900,"c":42830},{"d":"2021-09-25","o":42830,"h":43000,"l":41700,"c":42700},{"d":"2021-09-26","o":42700,"h":43900,"l":40800,"c":43180},{"d":"2021-09-27","o":43180,"h":44300,"l":42100,"c":42170},{"d":"2021-09-28","o":42170,"h":42800,"l":40900,"c":41030},{"d":"2021-09-29","o":41030,"h":42600,"l":40800,"c":41520},{"d":"2021-09-30","o":41520,"h":44100,"l":41400,"c":43790},{"d":"2021-10-01","o":43790,"h":48500,"l":43300,"c":48140},{"d":"2021-10-02","o":48140,"h":48300,"l":47000,"c":47660},{"d":"2021-10-03","o":47660,"h":49200,"l":47100,"c":48230},{"d":"2021-10-04","o":48230,"h":49500,"l":46900,"c":49240},{"d":"2021-10-05","o":49240,"h":51900,"l":49100,"c":51490},{"d":"2021-10-06","o":51490,"h":55800,"l":50400,"c":55340},{"d":"2021-10-07","o":55340,"h":55400,"l":53400,"c":53800},{"d":"2021-10-08","o":53800,"h":56100,"l":53600,"c":53950},{"d":"2021-10-09","o":53950,"h":55500,"l":53700,"c":54960},{"d":"2021-10-10","o":54960,"h":56500,"l":54100,"c":54690},{"d":"2021-10-11","o":54690,"h":57800,"l":54400,"c":57480},{"d":"2021-10-12","o":57480,"h":57700,"l":53900,"c":56000},{"d":"2021-10-13","o":56000,"h":58000,"l":54200,"c":57370},{"d":"2021-10-14","o":57370,"h":58500,"l":56900,"c":57360},{"d":"2021-10-15","o":57360,"h":62900,"l":56900,"c":61670},{"d":"2021-10-16","o":61670,"h":62500,"l":60200,"c":60870},{"d":"2021-10-17","o":60870,"h":61700,"l":58900,"c":61520},{"d":"2021-10-18","o":61520,"h":62600,"l":59900,"c":62030},{"d":"2021-10-19","o":62030,"h":64400,"l":61400,"c":64280},{"d":"2021-10-20","o":64280,"h":67000,"l":63500,"c":66000},{"d":"2021-10-21","o":66000,"h":66600,"l":62000,"c":62190},{"d":"2021-10-22","o":62190,"h":63700,"l":60000,"c":60690},{"d":"2021-10-23","o":60690,"h":61700,"l":59700,"c":61300},{"d":"2021-10-24","o":61300,"h":61500,"l":59600,"c":60860},{"d":"2021-10-25","o":60860,"h":63700,"l":60700,"c":63080},{"d":"2021-10-26","o":63080,"h":63300,"l":59900,"c":60340},{"d":"2021-10-27","o":60340,"h":61500,"l":58000,"c":58460},{"d":"2021-10-28","o":58460,"h":62500,"l":57800,"c":60600},{"d":"2021-10-29","o":60600,"h":62900,"l":60200,"c":62270},{"d":"2021-10-30","o":62270,"h":62400,"l":60700,"c":61880},{"d":"2021-10-31","o":61880,"h":62400,"l":59500,"c":61320},{"d":"2021-11-01","o":61320,"h":62400,"l":59600,"c":60960},{"d":"2021-11-02","o":60960,"h":64300,"l":60700,"c":63260},{"d":"2021-11-03","o":63260,"h":63500,"l":60400,"c":62930},{"d":"2021-11-04","o":62930,"h":63100,"l":60700,"c":61440},{"d":"2021-11-05","o":61440,"h":62600,"l":60800,"c":61000},{"d":"2021-11-06","o":61000,"h":61600,"l":60100,"c":61530},{"d":"2021-11-07","o":61530,"h":63300,"l":61300,"c":63300},{"d":"2021-11-08","o":63300,"h":67800,"l":63300,"c":67550},{"d":"2021-11-09","o":67550,"h":68500,"l":66400,"c":66940},{"d":"2021-11-10","o":66940,"h":69000,"l":62800,"c":64880},{"d":"2021-11-11","o":64880,"h":65600,"l":64100,"c":64790},{"d":"2021-11-12","o":64790,"h":65400,"l":62400,"c":64150},{"d":"2021-11-13","o":64150,"h":65000,"l":63400,"c":64400},{"d":"2021-11-14","o":64400,"h":65500,"l":63600,"c":65520},{"d":"2021-11-15","o":65520,"h":66300,"l":63500,"c":63610},{"d":"2021-11-16","o":63610,"h":63600,"l":58600,"c":60100},{"d":"2021-11-17","o":60100,"h":60700,"l":58400,"c":60360},{"d":"2021-11-18","o":60360,"h":60900,"l":56500,"c":56900},{"d":"2021-11-19","o":56900,"h":58400,"l":55600,"c":58100},{"d":"2021-11-20","o":58100,"h":59800,"l":57400,"c":59720},{"d":"2021-11-21","o":59720,"h":60000,"l":58500,"c":58680},{"d":"2021-11-22","o":58680,"h":59400,"l":55700,"c":56300},{"d":"2021-11-23","o":56300,"h":57900,"l":55300,"c":57570},{"d":"2021-11-24","o":57570,"h":57700,"l":55900,"c":57170},{"d":"2021-11-25","o":57170,"h":59400,"l":57000,"c":58960},{"d":"2021-11-26","o":58960,"h":59100,"l":53600,"c":53720},{"d":"2021-11-27","o":53720,"h":55300,"l":53700,"c":54720},{"d":"2021-11-28","o":54720,"h":57400,"l":53300,"c":57270},{"d":"2021-11-29","o":57270,"h":58800,"l":56700,"c":57800},{"d":"2021-11-30","o":57800,"h":59200,"l":55900,"c":56950},{"d":"2021-12-01","o":56950,"h":59000,"l":56500,"c":57180},{"d":"2021-12-02","o":57180,"h":57400,"l":55900,"c":56500},{"d":"2021-12-03","o":56500,"h":57600,"l":51700,"c":53620},{"d":"2021-12-04","o":53620,"h":53900,"l":41900,"c":49200},{"d":"2021-12-05","o":49200,"h":49700,"l":47100,"c":49400},{"d":"2021-12-06","o":49400,"h":50900,"l":47000,"c":50580},{"d":"2021-12-07","o":50580,"h":51900,"l":50200,"c":50580},{"d":"2021-12-08","o":50580,"h":51200,"l":48700,"c":50450},{"d":"2021-12-09","o":50450,"h":50800,"l":47400,"c":47800},{"d":"2021-12-10","o":47800,"h":50100,"l":47100,"c":47200},{"d":"2021-12-11","o":47200,"h":49500,"l":46900,"c":49400},{"d":"2021-12-12","o":49400,"h":50800,"l":48700,"c":50100},{"d":"2021-12-13","o":50100,"h":50200,"l":45800,"c":46700},{"d":"2021-12-14","o":46700,"h":48700,"l":46300,"c":48370},{"d":"2021-12-15","o":48370,"h":49500,"l":46600,"c":48870},{"d":"2021-12-16","o":48870,"h":49400,"l":47600,"c":47640},{"d":"2021-12-17","o":47640,"h":48000,"l":45500,"c":46200},{"d":"2021-12-18","o":46200,"h":47400,"l":45600,"c":46870},{"d":"2021-12-19","o":46870,"h":48300,"l":46400,"c":46680},{"d":"2021-12-20","o":46680,"h":47500,"l":45500,"c":46900},{"d":"2021-12-21","o":46900,"h":49300,"l":46600,"c":49000},{"d":"2021-12-22","o":49000,"h":49600,"l":48400,"c":48590},{"d":"2021-12-23","o":48590,"h":51400,"l":47900,"c":50820},{"d":"2021-12-24","o":50820,"h":51800,"l":50400,"c":50830},{"d":"2021-12-25","o":50830,"h":51200,"l":50200,"c":50430},{"d":"2021-12-26","o":50430,"h":51300,"l":49500,"c":50800},{"d":"2021-12-27","o":50800,"h":52100,"l":50500,"c":50700},{"d":"2021-12-28","o":50700,"h":50700,"l":47400,"c":47540},{"d":"2021-12-29","o":47540,"h":48200,"l":46100,"c":46470},{"d":"2021-12-30","o":46470,"h":47900,"l":45900,"c":47120},{"d":"2021-12-31","o":47120,"h":48500,"l":45700,"c":46220},{"d":"2022-01-01","o":46220,"h":47900,"l":46200,"c":47720},{"d":"2022-01-02","o":47720,"h":47900,"l":46700,"c":47300},{"d":"2022-01-03","o":47300,"h":47500,"l":45700,"c":46430},{"d":"2022-01-04","o":46430,"h":47500,"l":45500,"c":45830},{"d":"2022-01-05","o":45830,"h":47000,"l":42500,"c":43430},{"d":"2022-01-06","o":43430,"h":43700,"l":42500,"c":43080},{"d":"2022-01-07","o":43080,"h":43100,"l":40500,"c":41550},{"d":"2022-01-08","o":41550,"h":42300,"l":40500,"c":41680},{"d":"2022-01-09","o":41680,"h":42700,"l":41200,"c":41860},{"d":"2022-01-10","o":41860,"h":42200,"l":39650,"c":41820},{"d":"2022-01-11","o":41820,"h":43000,"l":41300,"c":42730},{"d":"2022-01-12","o":42730,"h":44300,"l":42500,"c":43920},{"d":"2022-01-13","o":43920,"h":44400,"l":42300,"c":42590},{"d":"2022-01-14","o":42590,"h":43400,"l":41800,"c":43100},{"d":"2022-01-15","o":43100,"h":43800,"l":42600,"c":43180},{"d":"2022-01-16","o":43180,"h":43500,"l":42700,"c":43100},{"d":"2022-01-17","o":43100,"h":43200,"l":41500,"c":42250},{"d":"2022-01-18","o":42250,"h":42700,"l":41300,"c":42370},{"d":"2022-01-19","o":42370,"h":42600,"l":41100,"c":41660},{"d":"2022-01-20","o":41660,"h":43500,"l":40600,"c":40680},{"d":"2022-01-21","o":40680,"h":41100,"l":35500,"c":36470},{"d":"2022-01-22","o":36470,"h":36900,"l":34000,"c":35030},{"d":"2022-01-23","o":35030,"h":36500,"l":34600,"c":36280},{"d":"2022-01-24","o":36280,"h":37500,"l":32900,"c":36680},{"d":"2022-01-25","o":36680,"h":37500,"l":35700,"c":36960},{"d":"2022-01-26","o":36960,"h":38900,"l":36200,"c":36830},{"d":"2022-01-27","o":36830,"h":37200,"l":35500,"c":37190},{"d":"2022-01-28","o":37190,"h":38000,"l":36200,"c":37720},{"d":"2022-01-29","o":37720,"h":38700,"l":37300,"c":38170},{"d":"2022-01-30","o":38170,"h":38400,"l":37300,"c":37920},{"d":"2022-01-31","o":37920,"h":38700,"l":36600,"c":38480},{"d":"2022-02-01","o":38480,"h":39200,"l":38100,"c":38740},{"d":"2022-02-02","o":38740,"h":38900,"l":36600,"c":36950},{"d":"2022-02-03","o":36950,"h":37500,"l":36300,"c":37310},{"d":"2022-02-04","o":37310,"h":41700,"l":37100,"c":41570},{"d":"2022-02-05","o":41570,"h":41900,"l":40900,"c":41400},{"d":"2022-02-06","o":41400,"h":42600,"l":41100,"c":42410},{"d":"2022-02-07","o":42410,"h":44500,"l":41700,"c":43860},{"d":"2022-02-08","o":43860,"h":45500,"l":42700,"c":44090},{"d":"2022-02-09","o":44090,"h":44800,"l":43200,"c":44340},{"d":"2022-02-10","o":44340,"h":45800,"l":43300,"c":43520},{"d":"2022-02-11","o":43520,"h":43900,"l":41900,"c":42400},{"d":"2022-02-12","o":42400,"h":43000,"l":41800,"c":42210},{"d":"2022-02-13","o":42210,"h":42800,"l":41900,"c":42060},{"d":"2022-02-14","o":42060,"h":42800,"l":41600,"c":42550},{"d":"2022-02-15","o":42550,"h":44700,"l":42500,"c":44580},{"d":"2022-02-16","o":44580,"h":44600,"l":43400,"c":43890},{"d":"2022-02-17","o":43890,"h":44100,"l":40200,"c":40520},{"d":"2022-02-18","o":40520,"h":40900,"l":39500,"c":39970},{"d":"2022-02-19","o":39970,"h":40400,"l":39700,"c":40100},{"d":"2022-02-20","o":40100,"h":40200,"l":38000,"c":38430},{"d":"2022-02-21","o":38430,"h":39500,"l":36800,"c":37070},{"d":"2022-02-22","o":37070,"h":38400,"l":36400,"c":38250},{"d":"2022-02-23","o":38250,"h":39300,"l":37100,"c":37270},{"d":"2022-02-24","o":37270,"h":39700,"l":34400,"c":38320},{"d":"2022-02-25","o":38320,"h":39700,"l":38000,"c":39230},{"d":"2022-02-26","o":39230,"h":40300,"l":38600,"c":39130},{"d":"2022-02-27","o":39130,"h":39900,"l":37100,"c":37710},{"d":"2022-02-28","o":37710,"h":43800,"l":37500,"c":43200},{"d":"2022-03-01","o":43200,"h":44900,"l":42800,"c":44420},{"d":"2022-03-02","o":44420,"h":45400,"l":43300,"c":43910},{"d":"2022-03-03","o":43910,"h":44100,"l":41900,"c":42450},{"d":"2022-03-04","o":42450,"h":42500,"l":38600,"c":39150},{"d":"2022-03-05","o":39150,"h":39700,"l":38600,"c":39400},{"d":"2022-03-06","o":39400,"h":39600,"l":38100,"c":38420},{"d":"2022-03-07","o":38420,"h":39500,"l":37200,"c":37990},{"d":"2022-03-08","o":37990,"h":39400,"l":37900,"c":38740},{"d":"2022-03-09","o":38740,"h":42600,"l":38700,"c":41980},{"d":"2022-03-10","o":41980,"h":42000,"l":38600,"c":39440},{"d":"2022-03-11","o":39440,"h":40200,"l":38300,"c":38750},{"d":"2022-03-12","o":38750,"h":39500,"l":38700,"c":38810},{"d":"2022-03-13","o":38810,"h":39300,"l":37600,"c":37790},{"d":"2022-03-14","o":37790,"h":39900,"l":37600,"c":39670},{"d":"2022-03-15","o":39670,"h":39900,"l":38100,"c":39280},{"d":"2022-03-16","o":39280,"h":41500,"l":38900,"c":41130},{"d":"2022-03-17","o":41130,"h":41400,"l":40500,"c":40920},{"d":"2022-03-18","o":40920,"h":42300,"l":40200,"c":41770},{"d":"2022-03-19","o":41770,"h":42400,"l":41500,"c":42210},{"d":"2022-03-20","o":42210,"h":42300,"l":40900,"c":41280},{"d":"2022-03-21","o":41280,"h":41500,"l":40500,"c":41000},{"d":"2022-03-22","o":41000,"h":43400,"l":40900,"c":42370},{"d":"2022-03-23","o":42370,"h":43000,"l":41900,"c":42890},{"d":"2022-03-24","o":42890,"h":44200,"l":42700,"c":43990},{"d":"2022-03-25","o":43990,"h":45100,"l":43600,"c":44310},{"d":"2022-03-26","o":44310,"h":44800,"l":44100,"c":44510},{"d":"2022-03-27","o":44510,"h":46900,"l":44400,"c":46820},{"d":"2022-03-28","o":46820,"h":48200,"l":46700,"c":47130},{"d":"2022-03-29","o":47130,"h":48100,"l":46900,"c":47450},{"d":"2022-03-30","o":47450,"h":47700,"l":46600,"c":47060},{"d":"2022-03-31","o":47060,"h":47600,"l":45200,"c":45520},{"d":"2022-04-01","o":45520,"h":46700,"l":44200,"c":46280},{"d":"2022-04-02","o":46280,"h":47200,"l":45600,"c":45810},{"d":"2022-04-03","o":45810,"h":47400,"l":45500,"c":46410},{"d":"2022-04-04","o":46410,"h":46900,"l":45100,"c":46600},{"d":"2022-04-05","o":46600,"h":47200,"l":45400,"c":45500},{"d":"2022-04-06","o":45500,"h":45500,"l":43100,"c":43170},{"d":"2022-04-07","o":43170,"h":43900,"l":42700,"c":43440},{"d":"2022-04-08","o":43440,"h":43900,"l":42100,"c":42280},{"d":"2022-04-09","o":42280,"h":42800,"l":42100,"c":42760},{"d":"2022-04-10","o":42760,"h":43400,"l":41900,"c":42160},{"d":"2022-04-11","o":42160,"h":42400,"l":39200,"c":39520},{"d":"2022-04-12","o":39520,"h":40700,"l":39300,"c":40080},{"d":"2022-04-13","o":40080,"h":41500,"l":39600,"c":41150},{"d":"2022-04-14","o":41150,"h":41500,"l":39600,"c":39940},{"d":"2022-04-15","o":39940,"h":40800,"l":39800,"c":40550},{"d":"2022-04-16","o":40550,"h":40700,"l":40000,"c":40390},{"d":"2022-04-17","o":40390,"h":40600,"l":39600,"c":39680},{"d":"2022-04-18","o":39680,"h":41100,"l":38700,"c":40800},{"d":"2022-04-19","o":40800,"h":41700,"l":40600,"c":41500},{"d":"2022-04-20","o":41500,"h":42900,"l":40900,"c":41370},{"d":"2022-04-21","o":41370,"h":42900,"l":39800,"c":40480},{"d":"2022-04-22","o":40480,"h":40800,"l":39200,"c":39710},{"d":"2022-04-23","o":39710,"h":39900,"l":39300,"c":39450},{"d":"2022-04-24","o":39450,"h":39900,"l":39000,"c":39450},{"d":"2022-04-25","o":39450,"h":40600,"l":38200,"c":40443},{"d":"2022-04-26","o":40443,"h":40808,"l":37716,"c":38170}],
"arrows":[{"d":"2020-07-13T08:00","p":8470,"top":8330,"bot":7320},{"d":"2021-04-06T05:00","p":49030,"top":48130,"bot":39040},{"d":"2021-07-14T07:00","p":28720,"top":28200,"bot":22880},{"d":"2021-09-02T03:00","p":40370,"top":39660,"bot":32170},{"d":"2021-11-04T14:00","p":53320,"top":52380,"bot":42400},{"d":"2022-04-26","p":35560,"top":34930,"bot":28330}],
"signals":[{"d":"2020-06-28","p":9270,"k":"sell"},{"d":"2020-08-02","p":12210,"k":"buy"},{"d":"2020-08-04","p":11520,"k":"sell"},{"d":"2021-04-26","p":54890,"k":"buy"},{"d":"2021-04-30","p":58810,"k":"sell"},{"d":"2021-07-19","p":32380,"k":"buy"},{"d":"2021-07-22","p":33120,"k":"sell"},{"d":"2021-09-06","p":53300,"k":"buy"},{"d":"2021-09-07","p":53450,"k":"sell"}],
"frame":[{"d":"2020-06-19T22:00","d2":"2022-06-15T14:00","p":85875,"p2":76480},{"d":"2020-06-19T22:00","d2":"2022-06-15T14:00","p":6612,"p2":5721},{"d":"2020-06-19T22:00","d2":"2020-06-25T14:38","p":76480,"p2":6612},{"d":"2022-06-09T22:00","d2":"2022-06-15T14:00","p":76480,"p2":6612}],
"panel":[{"d":"2020-06-25T14:38","d2":"2022-06-09T22:00","p":76480,"p2":6612}],
"legend":[{"d":"2020-06-29T14:00","p":71860,"t":"Bitcoin / U.S. Dollar, 1D, FTX\u00a0\u00a0O40443\u00a0\u00a0H40808\u00a0\u00a0L37716\u00a0\u00a0C38170\u00a0\u00a0−2273 (−5.62%)","k":"title"},{"d":"2020-06-29T14:00","p":66770,"t":"Wick HTF (Premium Members)\u00a0\u00a0n/a\u00a0\u00a0n/a\u00a0\u00a0n/a\u00a0\u00a0n/a","k":"title"},{"d":"2020-11-21T01:00","p":66770,"t":"43468.19","k":"band"},{"d":"2020-12-20T21:00","p":66770,"t":"37934.80","k":"band"},{"d":"2021-01-19T03:00","p":66770,"t":"40701.50","k":"basis"},{"d":"2021-02-17T01:00","p":66770,"t":"0.00","k":"buy"},{"d":"2021-03-05T12:00","p":66770,"t":"0.00","k":"sell"}],
"tag":[{"d":"2022-05-06T03:00","d2":"2022-06-08T07:00","p":39560,"p2":34610}],
"usd":[{"d":"2022-05-16T22:00","d2":"2022-05-31T00:00","p":74470,"p2":69030}]
},
"encoding":{"x":{"field":"d","type":"temporal","title":null,"scale":{"type":"utc","padding":0,"nice":false,"domain":["2020-06-25T14:38:00Z","2022-05-07T19:00:00Z"]},"axis":{"orient":"bottom","values":["2020-07-01T00:00:00Z","2020-09-01T00:00:00Z","2020-11-01T00:00:00Z","2021-01-01T00:00:00Z","2021-03-01T00:00:00Z","2021-05-01T00:00:00Z","2021-07-01T00:00:00Z","2021-09-01T00:00:00Z","2021-11-01T00:00:00Z","2022-01-01T00:00:00Z","2022-03-01T00:00:00Z","2022-05-01T00:00:00Z"],"labelExpr":"utcmonth(datum.value)==0?utcFormat(datum.value,'%Y'):utcFormat(datum.value,'%b')","labelFontWeight":{"condition":{"test":"utcmonth(datum.value)==0","value":"bold"},"value":"normal"},"domain":false,"ticks":false,"grid":false,"labelFontSize":20,"labelColor":"#131722","labelPadding":4,"labelFont":"Noto Sans","labelOverlap":false,"labelFlush":false}}},
"layer":[
{"data":{"name":"bands"},"mark":{"type":"area","color":"#e6f3fd","interpolate":"monotone"},"encoding":{"y":{"field":"u","type":"quantitative","title":null,"scale":{"type":"log","nice":false,"domain":[7227,76480]},"axis":{"orient":"right","values":[76000,64000,56000,48000,40500,34500,28500,24500,21500,18500,15500,13500,11900,10400,9000,7900],"format":"d","domain":false,"ticks":false,"grid":false,"labelFontSize":20,"labelColor":"#131722","labelPadding":14,"labelFont":"Noto Sans","labelOverlap":false,"labelFlush":false}},"y2":{"field":"l"}}},
{"data":{"name":"bands"},"mark":{"type":"line","color":"#3d9be3","strokeWidth":2.5,"interpolate":"monotone"},"encoding":{"y":{"field":"u","type":"quantitative","scale":{"type":"log","nice":false,"domain":[7227,76480]}}}},
{"data":{"name":"bands"},"mark":{"type":"line","color":"#3d9be3","strokeWidth":2.5,"interpolate":"monotone"},"encoding":{"y":{"field":"l","type":"quantitative","scale":{"type":"log","nice":false,"domain":[7227,76480]}}}},
{"data":{"name":"bands"},"mark":{"type":"line","color":"#878b92","strokeWidth":2.5,"interpolate":"monotone"},"encoding":{"y":{"field":"b","type":"quantitative","scale":{"type":"log","nice":false,"domain":[7227,76480]}}}},
{"data":{"name":"orange"},"mark":{"type":"area","color":"#fcc37a","opacity":0.72,"interpolate":"monotone"},"encoding":{"detail":{"field":"s"},"y":{"field":"u","type":"quantitative","scale":{"type":"log","nice":false,"domain":[7227,76480]}},"y2":{"field":"l"}}},
{"data":{"name":"candles"},"mark":{"type":"rule","color":"#000000","strokeWidth":1},"encoding":{"y":{"field":"h","type":"quantitative","scale":{"type":"log","nice":false,"domain":[7227,76480]}},"y2":{"field":"l"}}},
{"data":{"name":"candles"},"mark":{"type":"bar","size":2,"stroke":"#000000","strokeWidth":1},"encoding":{"y":{"field":"o","type":"quantitative","scale":{"type":"log","nice":false,"domain":[7227,76480]}},"y2":{"field":"c"},"fill":{"condition":{"test":"datum.c>=datum.o","value":"#ffffff"},"value":"#000000"}}},
{"data":{"name":"signals"},"mark":{"type":"point","filled":true,"size":22,"opacity":0.8},"encoding":{"y":{"field":"p","type":"quantitative","scale":{"type":"log","nice":false,"domain":[7227,76480]}},"fill":{"field":"k","type":"nominal","legend":null,"scale":{"domain":["buy","sell"],"range":["#ffeb3b","#f0506e"]}}}},
{"data":{"name":"arrows"},"mark":{"type":"rule","color":"#0aaef0","strokeWidth":7},"encoding":{"y":{"field":"top","type":"quantitative","scale":{"type":"log","nice":false,"domain":[7227,76480]}},"y2":{"field":"bot"}}},
{"data":{"name":"arrows"},"mark":{"type":"point","filled":true,"color":"#0aaef0","opacity":1,"size":400,"shape":"M0,-1L1,1L-1,1Z"},"encoding":{"y":{"field":"p","type":"quantitative","scale":{"type":"log","nice":false,"domain":[7227,76480]}}}},
{"data":{"name":"frame"},"mark":{"type":"rect","color":"#1e222d"},"encoding":{"x2":{"field":"d2"},"y":{"field":"p","type":"quantitative","scale":{"type":"log","nice":false,"domain":[7227,76480]}},"y2":{"field":"p2"}}},
{"data":{"name":"panel"},"mark":{"type":"rect","fill":null,"fillOpacity":0,"stroke":"#a3a6af","strokeWidth":1.2},"encoding":{"x2":{"field":"d2"},"y":{"field":"p","type":"quantitative","scale":{"type":"log","nice":false,"domain":[7227,76480]}},"y2":{"field":"p2"}}},
{"data":{"name":"tag"},"mark":{"type":"rect","color":"#000000","cornerRadius":2},"encoding":{"x2":{"field":"d2"},"y":{"field":"p","type":"quantitative","scale":{"type":"log","nice":false,"domain":[7227,76480]}},"y2":{"field":"p2"}}},
{"data":{"name":"usd"},"mark":{"type":"rect","fill":"#ffffff","stroke":"#e0e3eb","strokeWidth":1.5,"cornerRadius":6},"encoding":{"x2":{"field":"d2"},"y":{"field":"p","type":"quantitative","scale":{"type":"log","nice":false,"domain":[7227,76480]}},"y2":{"field":"p2"}}},
{"data":{"values":[{"d":"2022-05-24T08:00","p":71860,"t":"USD"}]},"mark":{"type":"text","align":"center","baseline":"middle","fontSize":20,"color":"#131722"},"encoding":{"y":{"field":"p","type":"quantitative","scale":{"type":"log","nice":false,"domain":[7227,76480]}},"text":{"field":"t"}}},
{"data":{"values":[{"d":"2022-05-11T19:00","p":38100,"t":"38170"}]},"mark":{"type":"text","align":"left","baseline":"middle","fontSize":20,"fontWeight":"bold","color":"#ffffff"},"encoding":{"y":{"field":"p","type":"quantitative","scale":{"type":"log","nice":false,"domain":[7227,76480]}},"text":{"field":"t"}}},
{"data":{"values":[{"d":"2022-05-11T19:00","p":35960,"t":"03:22:51"}]},"mark":{"type":"text","align":"left","baseline":"middle","fontSize":19.5,"color":"#c8c8c8"},"encoding":{"y":{"field":"p","type":"quantitative","scale":{"type":"log","nice":false,"domain":[7227,76480]}},"text":{"field":"t"}}},
{"data":{"name":"legend"},"mark":{"type":"text","align":"left","baseline":"middle","fontSize":21.5},"encoding":{"y":{"field":"p","type":"quantitative","scale":{"type":"log","nice":false,"domain":[7227,76480]}},"text":{"field":"t"},"color":{"field":"k","type":"nominal","legend":null,"scale":{"domain":["title","band","basis","buy","sell"],"range":["#131722","#2196f3","#787b86","#ffeb3b","#f23645"]}}}},
{"data":{"values":[{"d":"2020-06-25T12:00","p":80420,"t":"willgclemente published on TradingView.com, Apr 26, 2022 20:37 UTC"}]},"mark":{"type":"text","align":"left","baseline":"middle","fontSize":21.5,"color":"#d1d4dc"},"encoding":{"y":{"field":"p","type":"quantitative","scale":{"type":"log","nice":false,"domain":[7227,76480]}},"text":{"field":"t"}}},
{"data":{"values":[{"d":"2020-07-07T21:00","p":6130,"t":"TradingView"}]},"mark":{"type":"text","align":"left","baseline":"middle","fontSize":22.5,"color":"#d1d4dc"},"encoding":{"y":{"field":"p","type":"quantitative","scale":{"type":"log","nice":false,"domain":[7227,76480]}},"text":{"field":"t"}}},
{"data":{"values":[{"d":"2020-06-30T06:00","p":6130}]},"mark":{"type":"point","filled":true,"opacity":1,"color":"#d1d4dc","size":1296,"shape":"M-1,-.5H-.2V.5H-.5V-.05H-1ZM.02,-.5A.15,.15 0 1 1 .02,-.18A.15,.15 0 1 1 .02,-.5ZM.4,-.5H1L.55,.5H.1Z"},"encoding":{"y":{"field":"p","type":"quantitative","scale":{"type":"log","nice":false,"domain":[7227,76480]}}}}
]}
